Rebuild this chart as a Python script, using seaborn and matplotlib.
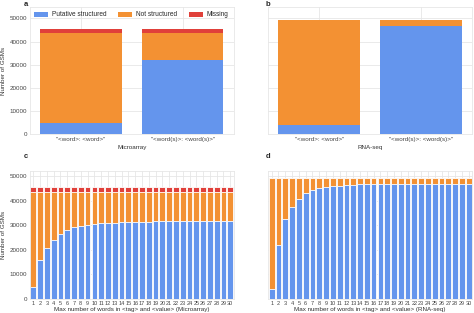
import numpy as np
import pandas as pd
import seaborn as sns
import matplotlib
matplotlib.use("Agg")
import matplotlib.pyplot as plt

# données
formats = ['"<word>: <word>"', '"<word(s)>: <word(s)>"']
micro_struct = [4800, 31900]
micro_notstruct = [38900, 11800]
micro_missing = [1800, 1800]
rna_struct = [4000, 46900]
rna_notstruct = [45500, 2600]
rna_missing = [0, 0]

max_words = list(range(1, 31))
micro_struct_w = [4800, 15800, 20800, 24200, 26500, 28000, 29200, 29800, 30200, 30500,
                  30800, 31000, 31100, 31200, 31300, 31400, 31500, 31500, 31600, 31600,
                  31700, 31700, 31700, 31800, 31800, 31800, 31800, 31900, 31900, 31900]
micro_total_w = [45500] * 30
micro_missing_w = [1800] * 30
rna_struct_w = [4000, 22100, 32600, 37300, 40900, 43000, 44400, 45200, 45700, 46000,
                46200, 46500, 46600, 46700, 46700, 46800, 46800, 46800, 46900, 46900,
                46900, 46900, 46900, 46900, 46900, 46900, 46900, 46900, 46900, 46900]
rna_total_w = [49500] * 30

c_struct = "#6495ED"
c_not = "#F39133"
c_miss = "#E0403A"

sns.set_style("whitegrid")
plt.rcParams['font.family'] = ['Liberation Sans', 'DejaVu Sans']

fig, axes = plt.subplots(2, 2, figsize=(4.74, 3.13), dpi=100)
plt.subplots_adjust(left=0.063, right=0.996, bottom=0.045, top=0.978, wspace=0.17, hspace=0.29)


def stacked(ax, x, struct, notstruct, missing, width, edge):
    struct = np.array(struct)
    top_ns = struct + np.array(notstruct)
    total = top_ns + np.array(missing)
    df = pd.DataFrame({"x": x, "s": struct, "ns": top_ns, "tot": total})
    kw = dict(ax=ax, width=width, edgecolor=edge, linewidth=0.6 if edge else 0, saturation=1)
    sns.barplot(data=df, x="x", y="tot", color=c_miss, label="Missing", **kw)
    sns.barplot(data=df, x="x", y="ns", color=c_not, label="Not structured", **kw)
    sns.barplot(data=df, x="x", y="s", color=c_struct, label="Putative structured", **kw)


def style(ax, xlabel, ylabel, ylim, ticks=True):
    ax.set_ylim(*ylim)
    ax.set_yticks([0, 10000, 20000, 30000, 40000, 50000])
    ax.tick_params(labelsize=4.5, pad=2, length=0, colors="#444444")
    ax.set_xlabel(xlabel, fontsize=4.5, labelpad=2, color="#333333")
    ax.set_ylabel(ylabel, fontsize=4.5, labelpad=2.5, color="#333333")
    if not ticks:
        ax.set_yticklabels([])
    for s in ax.spines.values():
        s.set_color("#e6e6e6")
        s.set_linewidth(0.6)
    ax.grid(color="#e6e6e6", linewidth=0.6)
    ax.set_axisbelow(True)


stacked(axes[0, 0], formats, micro_struct, micro_notstruct, micro_missing, 0.8, None)
stacked(axes[0, 1], formats, rna_struct, rna_notstruct, rna_missing, 0.8, None)
stacked(axes[1, 0], max_words, micro_struct_w,
        np.array(micro_total_w) - np.array(micro_missing_w) - np.array(micro_struct_w),
        micro_missing_w, 0.85, "white")
stacked(axes[1, 1], max_words, rna_struct_w,
        np.array(rna_total_w) - np.array(rna_struct_w), [0] * 30, 0.85, "white")

style(axes[0, 0], "Microarray", "Number of GSMs", (0, 55000))
style(axes[0, 1], "RNA-seq", "", (0, 55000), ticks=False)
style(axes[1, 0], "Max number of words in <tag> and <value> (Microarray)", "Number of GSMs", (0, 52000))
style(axes[1, 1], "Max number of words in <tag> and <value> (RNA-seq)", "", (0, 52000), ticks=False)
for ax in axes[1]:
    ax.tick_params(axis="x", labelsize=4.0, pad=1.5)
    ax.xaxis.labelpad = 1

# lettres des panneaux
for lettre, (fx, fy) in zip("abcd", [(26, 4), (268, 4), (26, 156), (268, 156)]):
    fig.text(fx / 474, 1 - fy / 313, lettre, fontsize=5.5, fontweight="bold", ha="center", va="center")

h, l = axes[0, 0].get_legend_handles_labels()
order = [l.index("Putative structured"), l.index("Not structured"), l.index("Missing")]
for ax in axes.flat:
    if ax.get_legend() is not None:
        ax.get_legend().remove()
axes[0, 0].legend([h[i] for i in order], [l[i] for i in order], loc="upper left",
                  bbox_to_anchor=(0.0, 1.0), ncol=3, frameon=False,
                  fontsize=4.7, handlelength=2.1, handleheight=0.8, handletextpad=0.6,
                  columnspacing=1.8, borderaxespad=0.4, borderpad=0.3)

plt.savefig("out.png", dpi=100)
